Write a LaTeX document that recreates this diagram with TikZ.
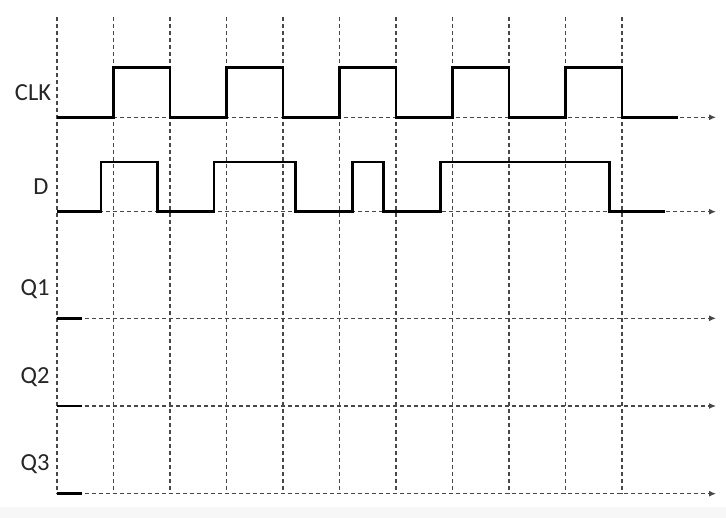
\documentclass[tikz,border=0pt]{standalone}
\usepackage{fontspec}
\setmainfont{Carlito}
\usetikzlibrary{arrows.meta}
\begin{document}
\begin{tikzpicture}[x=1pt,y=-1pt,
  grid/.style={draw=black!72, line width=1.2pt, dash pattern=on 4pt off 3pt},
  axis/.style={grid, -{Latex[length=7pt,width=6pt]}},
  wave/.style={line width=2.7pt, line join=miter, line cap=butt},
  lbl/.style={font=\fontsize{24.5}{28}\selectfont, text=black!85, anchor=base, inner sep=0pt}]
\fill[white] (0,0) rectangle (726,518);
\fill[black!3] (0,507) rectangle (726,518);
\useasboundingbox (0,0) rectangle (726,518);
% vertical grid lines
\foreach \i in {0,...,10} \draw[grid] (57+56.5*\i,17) -- (57+56.5*\i,494);
% axes
\coordinate (clkS) at (57,117.3); \coordinate (clkE) at (716,117.3);
\coordinate (dS) at (57,211.7);   \coordinate (dE) at (716,211.7);
\coordinate (q1S) at (57,318.3);  \coordinate (q1E) at (716,318.3);
\coordinate (q2S) at (57,406);    \coordinate (q2E) at (716,406);
\coordinate (q3S) at (57,493.7);  \coordinate (q3E) at (716,493.7);
\draw[axis] (clkS) -- (clkE);
\draw[axis] (dS) -- (dE);
\draw[axis] (q1S) -- (q1E);
\draw[axis] (q2S) -- (q2E);
\draw[axis] (q3S) -- (q3E);
% labels
\node[lbl] (clk) at (33,100.7) {CLK};
\node[lbl] (d) at (41,195) {D};
\node[lbl] (q1) at (35,295.5) {Q1};
\node[lbl] (q2) at (35,383.5) {Q2};
\node[lbl] (q3) at (35,471) {Q3};
% CLK waveform
\draw[wave] (57,117.3) -- (113.5,117.3) -- (113.5,67.7) -- (170,67.7) -- (170,117.3)
  -- (226.5,117.3) -- (226.5,67.7) -- (283,67.7) -- (283,117.3)
  -- (339.5,117.3) -- (339.5,67.7) -- (396,67.7) -- (396,117.3)
  -- (452.5,117.3) -- (452.5,67.7) -- (509,67.7) -- (509,117.3)
  -- (565.5,117.3) -- (565.5,67.7) -- (622,67.7) -- (622,117.3) -- (678,117.3);
% D waveform
\draw[wave] (57,211.7) -- (101,211.7) -- (101,162) -- (157.7,162) -- (157.7,211.7)
  -- (214,211.7) -- (214,162) -- (295.7,162) -- (295.7,211.7)
  -- (352.3,211.7) -- (352.3,162) -- (383.7,162) -- (383.7,211.7)
  -- (440.3,211.7) -- (440.3,162) -- (609.3,162) -- (609.3,211.7) -- (665,211.7);
% Q initial levels
\draw[wave] (q1S) -- ++(25,0);
\draw[wave] (q2S) -- ++(25,0);
\draw[wave] (q3S) -- ++(25,0);
\end{tikzpicture}
\end{document}
